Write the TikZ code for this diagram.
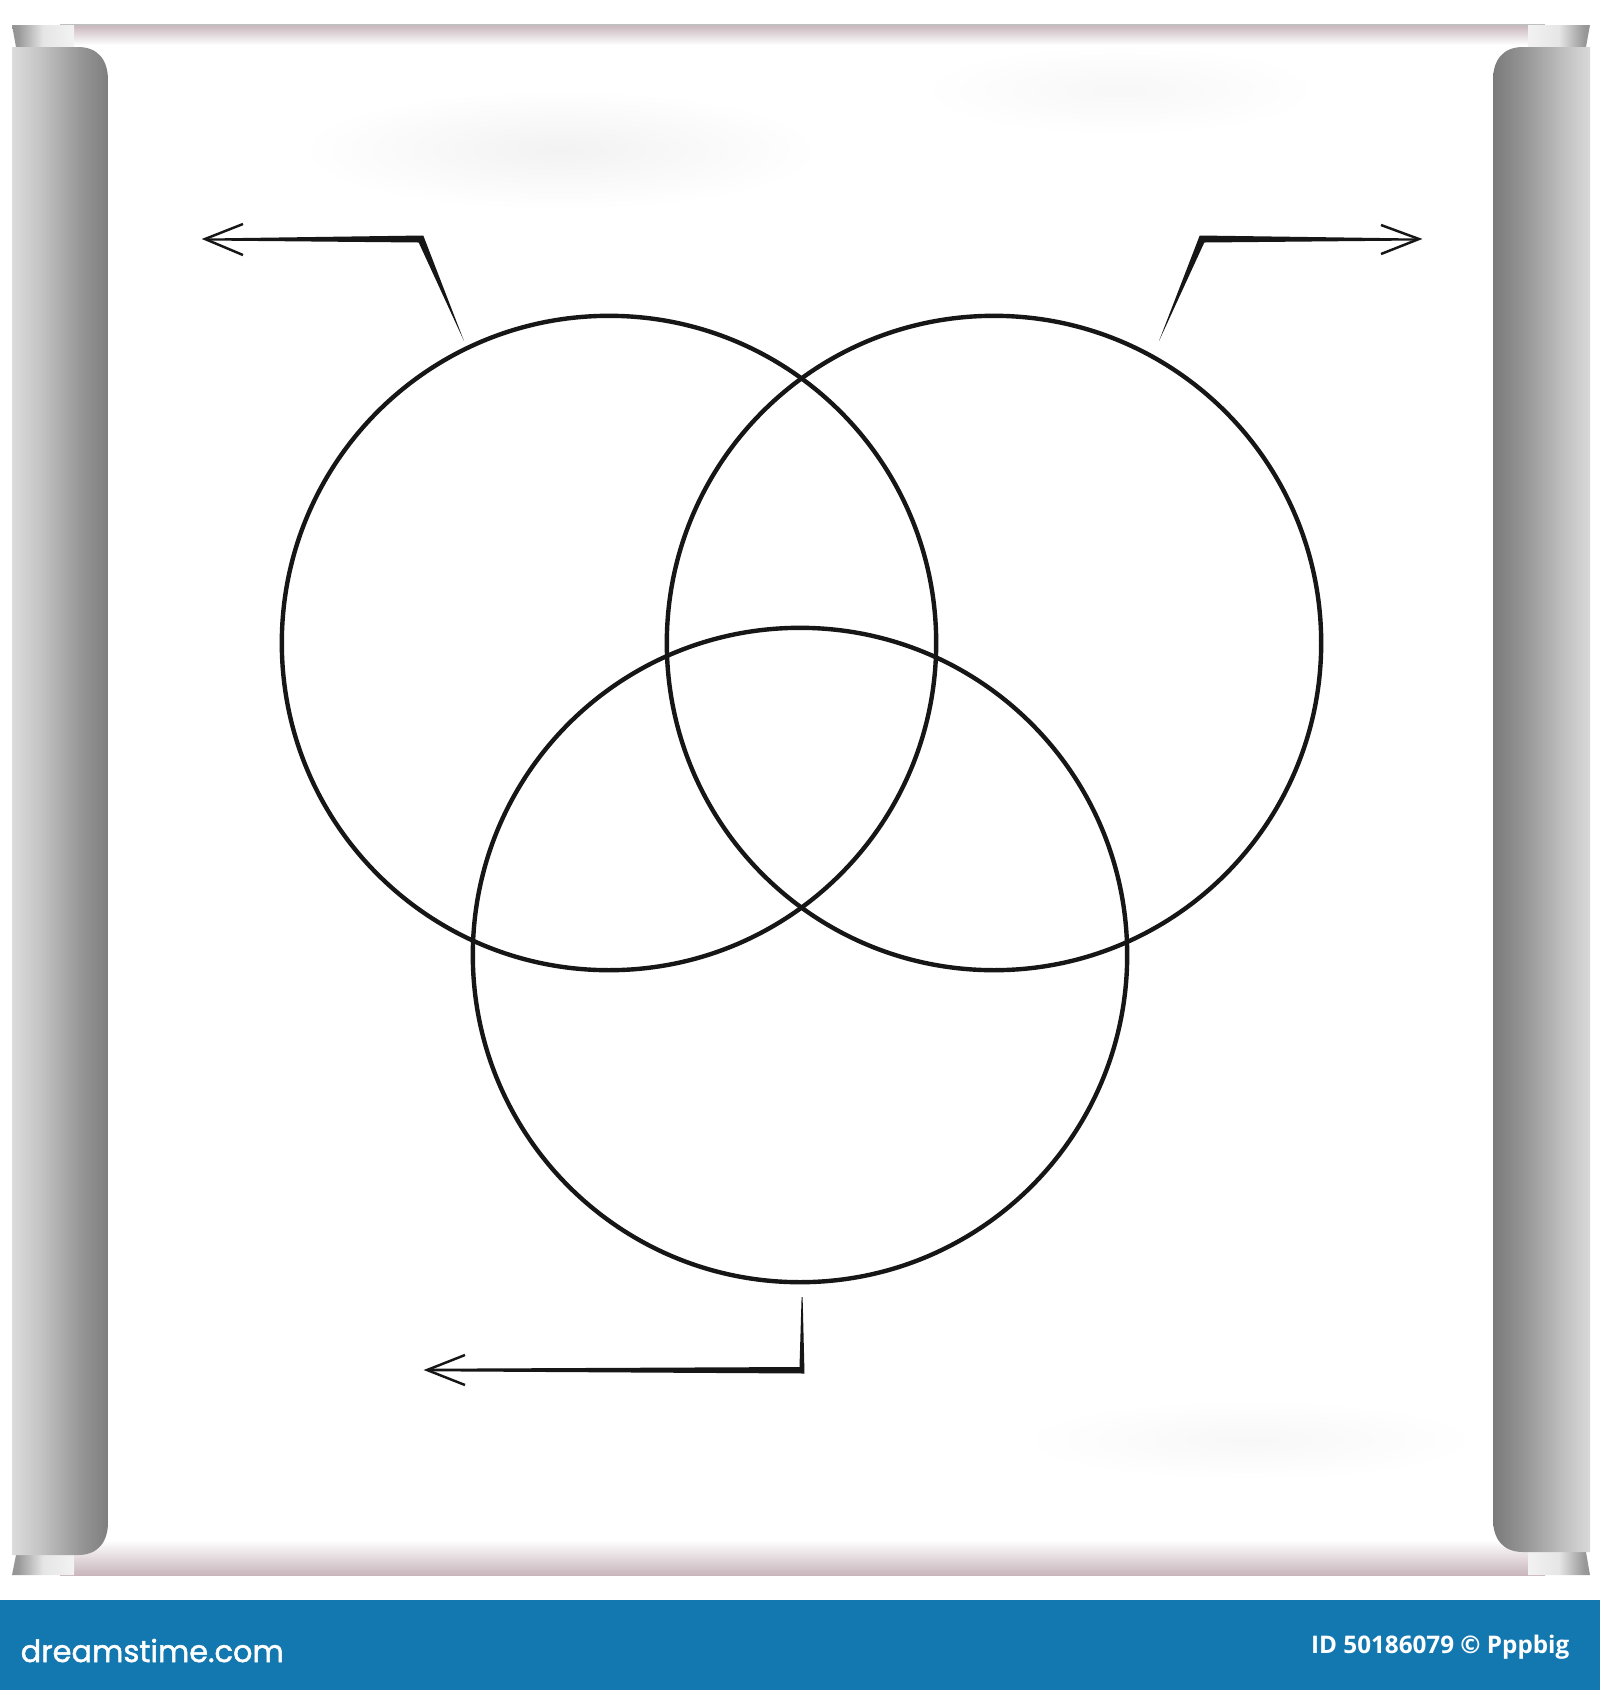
\documentclass[tikz,border=0pt]{standalone}
\usepackage{fontspec}
\newfontfamily\logofont{Poppins}[FakeBold=1.6]
\newfontfamily\idfont{Open Sans}
\definecolor{ink}{RGB}{22,22,22}
\definecolor{banner}{RGB}{19,119,176}
\definecolor{pinkg}{RGB}{200,182,188}
\pgfdeclarehorizontalshading{lroll}{100bp}{color(0bp)=(black!40); color(8bp)=(black!25); color(22bp)=(black!12); color(38bp)=(black!22); color(62bp)=(black!42); color(90bp)=(black!60); color(100bp)=(black!55)}
\pgfdeclarehorizontalshading{rroll}{100bp}{color(0bp)=(black!58); color(10bp)=(black!62); color(40bp)=(black!42); color(65bp)=(black!22); color(85bp)=(black!8); color(93bp)=(black!18); color(100bp)=(black!38)}
\pgfdeclarehorizontalshading{lcap}{100bp}{color(0bp)=(black!55); color(30bp)=(black!40); color(50bp)=(black!10); color(80bp)=(black!4); color(100bp)=(black!30)}
\pgfdeclarehorizontalshading{rcap}{100bp}{color(0bp)=(black!30); color(20bp)=(black!4); color(50bp)=(black!10); color(70bp)=(black!40); color(100bp)=(black!55)}
\begin{document}
\begin{tikzpicture}[x=0.01cm,y=-0.01cm,
  ring/.style={circle, draw=ink, line width=1.25pt, minimum size=6.54cm, inner sep=0pt},
  barb/.style={draw=ink, line width=0.7pt, line join=miter, miter limit=30},
  shaft/.style={fill=ink}]
\useasboundingbox (0,0) rectangle (1600,1690);
\fill[white] (0,0) rectangle (1600,1690);
% soft shadows on the sheet
\shade[inner color=black!5, outer color=white] (560,150) ellipse [x radius=260, y radius=60];
\shade[inner color=black!3, outer color=white] (1120,90) ellipse [x radius=200, y radius=45];
\shade[inner color=black!3, outer color=white] (1250,1440) ellipse [x radius=230, y radius=40];
% sheet edges
\shade[top color=pinkg, bottom color=white] (60,25) rectangle (1545,45);
\draw[black!25, line width=0.3pt] (60,25) -- (1545,25);
\shade[top color=white, bottom color=pinkg] (60,1540) rectangle (1545,1575);
% left roller
\shade[shading=lcap] (12,25) -- (74,25) -- (74,47) -- (16,47) -- cycle;
\shade[shading=lcap] (16,1555) -- (74,1555) -- (74,1575) -- (12,1575) -- cycle;
\shade[shading=lroll] (12,47) -- (78,47) .. controls (98,47) and (108,60) .. (108,80)
   -- (108,1522) .. controls (108,1542) and (98,1555) .. (78,1555) -- (12,1555) -- cycle;
% right roller
\shade[shading=rcap] (1528,25) -- (1590,25) -- (1586,47) -- (1528,47) -- cycle;
\shade[shading=rcap] (1528,1552) -- (1586,1552) -- (1590,1575) -- (1528,1575) -- cycle;
\shade[shading=rroll] (1590,47) -- (1523,47) .. controls (1503,47) and (1493,60) .. (1493,80)
   -- (1493,1519) .. controls (1493,1539) and (1503,1552) .. (1523,1552) -- (1590,1552) -- cycle;
% circles
\node[ring] (A) at (609,643) {};
\node[ring] (B) at (994,643) {};
\node[ring] (C) at (800,955) {};
% arrow end points
\coordinate (a1) at (464,341);
\coordinate (a2) at (205,239);
\coordinate (b1) at (1159,341);
\coordinate (b2) at (1419,239);
\coordinate (c1) at (802,1297);
\coordinate (c2) at (427,1370);
% top-left arrow
\fill[shaft] (206,238.5) -- (423.3,235.5) -- (a1) -- (418.7,242.5) -- (206,240.5) -- cycle;
\draw[barb] (243,224) -- (a2) -- (243,255);
% top-right arrow
\fill[shaft] (1417,238.5) -- (1199.7,235.5) -- (b1) -- (1204.3,242.5) -- (1417,240.5) -- cycle;
\draw[barb] (1381,225) -- (b2) -- (1381,254);
% bottom arrow
\fill[shaft] (801.6,1297) -- (799.5,1367) -- (430,1368.7) -- (430,1371.3) -- (804.5,1373.5) -- (802.6,1297) -- cycle;
\draw[barb] (465,1355) -- (c2) -- (465,1385);
% banner
\fill[banner] (0,1600) rectangle (1600,1690);
\node[anchor=base west, inner sep=0pt, text=white] (logo) at (20,1662)
  {\resizebox{2.63cm}{!}{\logofont dreamstime.com}};
\node[anchor=base east, inner sep=0pt, text=white] (id) at (1570,1653)
  {\resizebox{2.58cm}{!}{\idfont\bfseries ID 50186079 © Pppbig}};
\end{tikzpicture}
\end{document}
